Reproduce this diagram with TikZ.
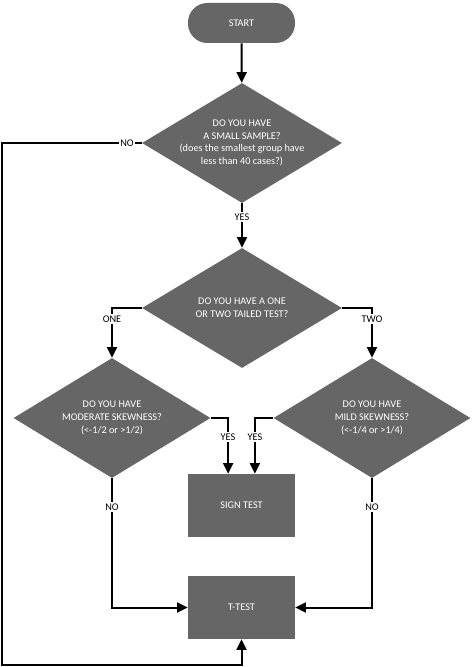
\documentclass[tikz,border=0pt]{standalone}
\usepackage{fontspec}
\setmainfont{Carlito}
\usetikzlibrary{shapes.geometric,arrows.meta}
\definecolor{boxgray}{RGB}{102,102,102}
\tikzset{
  shp/.style={fill=boxgray, draw=none, inner sep=0pt},
  dia/.style={shp, diamond, minimum width=#1*0.75pt, minimum height=90pt},
  dia/.default=200,
  rectbox/.style={shp, rectangle, minimum width=80.25pt, minimum height=47.25pt},
  txt/.style={text=white, font=\fontsize{7.7}{9.5}\selectfont, align=center, inner sep=0pt},
  lab/.style={fill=white, text=black, font=\fontsize{7.7}{9.5}\selectfont, inner sep=1.2pt},
  conn/.style={line width=1.5pt, draw=black},
  arr/.style={conn, -{Triangle[length=8pt,width=7.5pt]}}
}
\begin{document}
\begin{tikzpicture}[x=0.75pt,y=-0.75pt]
\useasboundingbox (0,0) rectangle (474,667);
% shapes
\node[shp, rectangle, rounded corners=14.5pt, minimum width=80.25pt, minimum height=30pt] (start) at (241.5,23) {};
\node[txt] (startt) at (start) {START};
\node[dia] (q1) at (242,143) {};
\node[txt] (q1t) at (q1) {DO YOU HAVE\\A SMALL SAMPLE?\\(does the smallest group have\\less than 40 cases?)};
\node[dia] (q2) at (242,308) {};
\node[txt] (q2t) at (q2) {DO YOU HAVE A ONE\\OR TWO TAILED TEST?};
\node[dia=197] (q3) at (112,418) {};
\node[txt] (q3t) at (q3) {DO YOU HAVE\\MODERATE SKEWNESS?\\(<-1/2 or >1/2)};
\node[dia=197] (q4) at (372,418) {};
\node[txt] (q4t) at (q4) {DO YOU HAVE\\MILD SKEWNESS?\\(<-1/4 or >1/4)};
\node[rectbox] (sign) at (241.5,505.5) {};
\node[txt] (signt) at (sign) {SIGN TEST};
\node[rectbox] (ttest) at (241.5,607.5) {};
\node[txt] (ttestt) at (ttest) {T-TEST};
% coordinates
\coordinate (l1) at (1.6,143);
\coordinate (l2) at (1.6,665.4);
\coordinate (l3) at (241.5,665.4);
% connectors
\draw[arr] (start) -- (q1);
\draw[arr] (q1.west) -- (l1) -- (l2) -- (l3) -- (ttest.south);
\draw[arr] (q1.south) -- (q2.north);
\draw[arr] (q2.west) -| (q3.north);
\draw[arr] (q2.east) -| (q4.north);
\draw[arr] (q3.east) -| ([xshift=-10pt]sign.north);
\draw[arr] (q4.west) -| ([xshift=10pt]sign.north);
\draw[arr] (q3.south) |- (ttest.west);
\draw[arr] (q4.south) |- (ttest.east);
% labels
\node[lab] (lno1) at (127,143) {NO};
\node[lab] (lyes1) at (242,217) {YES};
\node[lab] (lone) at (112,319) {ONE};
\node[lab] (ltwo) at (372,319) {TWO};
\node[lab] (lyes2) at (228,437) {YES};
\node[lab] (lyes3) at (255,437) {YES};
\node[lab] (lno2) at (112,507) {NO};
\node[lab] (lno3) at (372,507) {NO};
\end{tikzpicture}
\end{document}
